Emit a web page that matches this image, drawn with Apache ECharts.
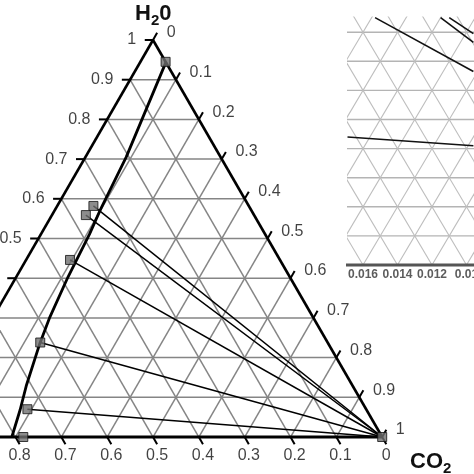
<!DOCTYPE html>
<html>
<head>
<meta charset="utf-8">
<script src="https://cdn.jsdelivr.net/npm/echarts@6.0.0/dist/echarts.min.js"></script>
<style>
html, body { margin: 0; padding: 0; background: #fff; }
#chart { width: 474px; height: 474px; }
</style>
</head>
<body>
<div id="chart"></div>
<script>
// points are [H2O, CO2]; third component = 1 - H2O - CO2
const tickValues = [0, 0.1, 0.2, 0.3, 0.4, 0.5, 0.6, 0.7, 0.8, 0.9, 1];
const tickLabels = ['0', '0.1', '0.2', '0.3', '0.4', '0.5', '0.6', '0.7', '0.8', '0.9', '1'];

// thick boundary curve
const boundaryCurve = [
  [0.945, 0.056], [0.705, 0.089], [0.572, 0.099], [0.511, 0.106], [0.403, 0.113],
  [0.302, 0.124], [0.237, 0.135], [0.129, 0.159], [0.068, 0.176], [0, 0.192]
];
// measured compositions (squares)
const phasePoints = [
  [0.945, 0.055], [0.582, 0.079], [0.559, 0.074], [0.446, 0.096],
  [0.238, 0.135], [0.070, 0.191], [0, 0.217], [0, 1]
];
const co2Corner = [0, 1];
// tie lines go from these squares to pure CO2
const tieStarts = [
  [0.582, 0.079], [0.559, 0.074], [0.446, 0.096], [0.238, 0.135], [0.070, 0.191], [0, 0.217]
];

// inset (zoom): x = third component, y = H2O offset
const insetTicks = [0.016, 0.014, 0.012, 0.010];
const insetTickLabels = ['0.016', '0.014', '0.012', '0.01'];
const insetLines = [
  [[0.0153, 0.0170], [0.0096, 0.0133]],
  [[0.0115, 0.0170], [0.0096, 0.0153]],
  [[0.0110, 0.0170], [0.0096, 0.0159]],
  [[0.0169, 0.0088], [0.0096, 0.0082]]
];

const K = Math.sqrt(3) / 2;
function tern(h, c) {
  return [c + h / 2, h * K];
}

const FONT = 'Liberation Sans';
const TICK = 0.018;
let series = [];

function seg(a, b, color, width, idx, z) {
  series.push({
    type: 'line',
    xAxisIndex: idx,
    yAxisIndex: idx,
    data: [a, b],
    symbol: 'none',
    silent: true,
    z: z,
    lineStyle: { color: color, width: width }
  });
}

function labels(points, texts, position, distance, idx, style) {
  series.push({
    type: 'scatter',
    xAxisIndex: idx,
    yAxisIndex: idx,
    symbolSize: 1,
    silent: true,
    z: 20,
    itemStyle: { color: 'rgba(0,0,0,0)' },
    data: points.map((p, i) => [p[0], p[1], texts[i]]),
    label: Object.assign({
      show: true,
      position: position,
      distance: distance,
      formatter: (p) => p.value[2]
    }, style)
  });
}

/* main ternary grid */
tickValues.slice(1, 10).forEach((v) => {
  seg(tern(v, 0), tern(v, 1 - v), '#858585', 1.5, 0, 2);   // H2O const
  seg(tern(0, v), tern(1 - v, v), '#858585', 1.5, 0, 2);   // CO2 const
  seg(tern(1 - v, 0), tern(0, 1 - v), '#858585', 1.5, 0, 2); // third const
});
/* ticks */
tickValues.forEach((v) => {
  seg(tern(v, 0), tern(v, -TICK), '#000', 2, 0, 5);
  seg(tern(1 - v, v), tern(1 - v + TICK, v), '#000', 2, 0, 5);
  seg(tern(0, 1 - v), tern(-TICK, 1 - v + TICK), '#000', 2, 0, 5);
});
/* edges */
seg(tern(0, 0), tern(1, 0), '#000', 2.6, 0, 6);
seg(tern(1, 0), tern(0, 1), '#000', 2.6, 0, 6);
seg(tern(0, 0), tern(0, 1), '#000', 2.8, 0, 6);

/* tie lines */
tieStarts.forEach((p) => {
  seg(tern(p[0], p[1]), tern(co2Corner[0], co2Corner[1]), '#000', 1.5, 0, 7);
});

/* boundary curve */
series.push({
  type: 'line',
  data: boundaryCurve.map((p) => tern(p[0], p[1])),
  symbol: 'none',
  silent: true,
  z: 8,
  lineStyle: { color: '#000', width: 2.8 }
});

/* squares */
series.push({
  type: 'scatter',
  data: phasePoints.map((p) => tern(p[0], p[1])),
  symbol: 'rect',
  symbolSize: 9,
  silent: true,
  z: 10,
  itemStyle: { color: '#6f6f6f', borderColor: '#111', borderWidth: 1 }
});

/* tick labels */
const labelStyle = { fontFamily: FONT, fontSize: 16, color: '#111' };
labels(tickValues.map((v) => tern(v, -TICK)), tickLabels, 'left', 8, 0, labelStyle);
labels(tickValues.map((v) => tern(1 - v + TICK, v)), tickLabels, 'right', 9, 0, labelStyle);
labels(tickValues.map((v) => tern(-TICK, 1 - v + TICK)), tickLabels, 'bottom', 3, 0, labelStyle);

/* inset */
for (let k = 1; k <= 9; k++) {
  seg([0.02, 0.002 * k], [0.005, 0.002 * k], '#b4b4b4', 1.4, 1, 2);
}
for (let j = 0; j <= 15; j++) {
  const u0 = 0.002 * j;
  seg([u0, 0], [u0 + 0.009, 0.018], '#bdbdbd', 1.1, 1, 2);
  seg([u0, 0], [u0 - 0.009, 0.018], '#bdbdbd', 1.1, 1, 2);
}
seg([0.02, 0], [0.005, 0], '#555', 3, 1, 4);
insetLines.forEach((l) => seg(l[0], l[1], '#111', 1.6, 1, 5));
labels(insetTicks.map((u) => [u, 0]), insetTickLabels, 'bottom', 3, 1,
  { fontFamily: FONT, fontSize: 12, fontWeight: 'bold', color: '#333' });

const richTitle = {
  a: { fontFamily: FONT, fontSize: 22, fontWeight: 'bold', color: '#111', lineHeight: 28 },
  b: { fontFamily: FONT, fontSize: 15, fontWeight: 'bold', color: '#111', lineHeight: 15, verticalAlign: 'bottom' }
};

const chart = echarts.init(document.getElementById('chart'));
chart.setOption({
  animation: false,
  backgroundColor: '#fff',
  title: [
    { text: '{a|H}{b|2}{a|0}', left: 135, top: 0, padding: 0, textStyle: { rich: richTitle } },
    { text: '{a|CO}{b|2}', left: 410, top: 448, padding: 0, textStyle: { rich: richTitle } }
  ],
  grid: [
    { left: 0, top: 0, width: 474, height: 474 },
    { left: 348, top: 17, width: 126, height: 251 }
  ],
  xAxis: [
    { type: 'value', gridIndex: 0, min: 0.1662, max: 1.2003, show: false },
    { type: 'value', gridIndex: 1, min: 0.009565, max: 0.01687, inverse: true, show: false }
  ],
  yAxis: [
    { type: 'value', gridIndex: 0, min: -0.0807, max: 0.9533, show: false },
    { type: 'value', gridIndex: 1, min: -0.000206, max: 0.017045, show: false }
  ],
  series: series
});
</script>
</body>
</html>
